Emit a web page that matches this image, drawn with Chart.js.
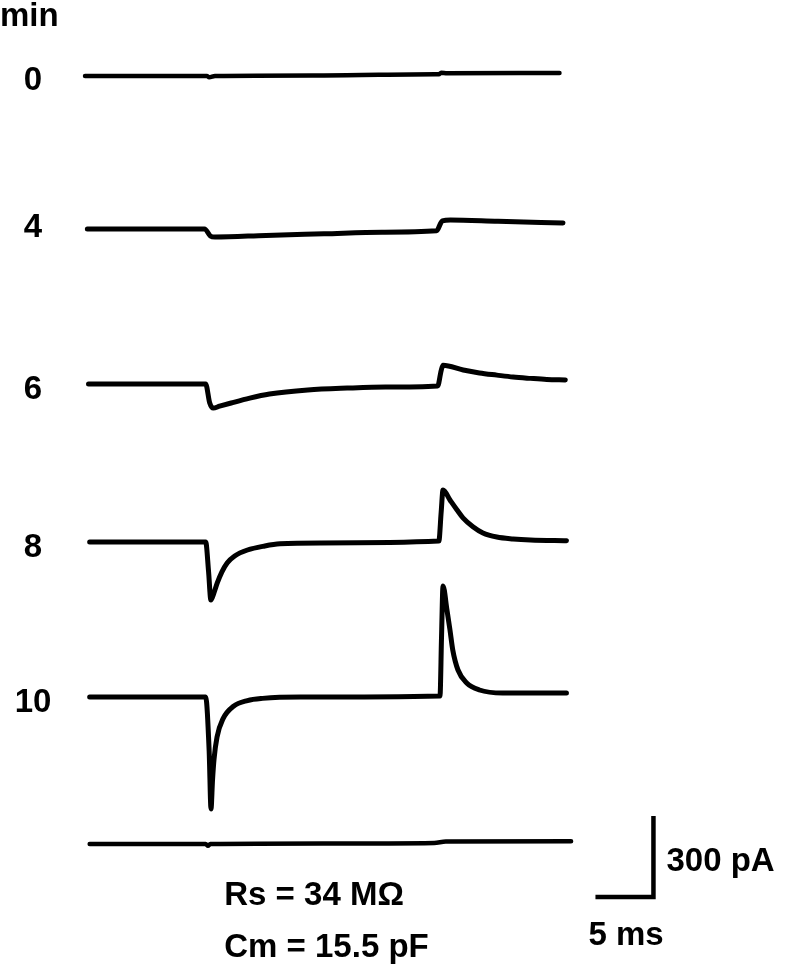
<!DOCTYPE html>
<html>
<head>
<meta charset="utf-8">
<script src="https://cdn.jsdelivr.net/npm/chart.js@4"></script>
<style>
  html, body { margin: 0; padding: 0; background: #fff; }
  #wrap { position: relative; width: 785px; height: 970px; }
</style>
</head>
<body>
<div id="wrap"><canvas id="c"></canvas></div>
<script>
// ---- Data (time in ms from the onset of the voltage step, current in pA relative to each trace's holding level) ----
const traceLabels = ['0', '4', '6', '8', '10', ''];   // minutes after break-in ('' = bottom trace, no label)
const traceOffsetsPA = [3312, 2742, 2168, 1584, 1010, 466]; // vertical stacking of the traces, pA

const t0  = [-10.6, -0.6, -0.1, 0.1, 0.6, 10, 19.6, 19.9, 20.1, 20.6, 30.3];
const i0  = [-4, -4, -4, -9, -4, -2, 2, 2, 8, 6, 7];

const t4  = [-10.4, -0.3, 0.2, 0.6, 5, 10, 15, 19.7, 20.2, 20.9, 25, 30.6];
const i4  = [0, 0, -26, -30, -24, -18, -12, -7, 30, 33, 28, 22];

const t6  = [-10.3, -0.2, 0.15, 0.45, 1.0, 2.0, 3.6, 5.3, 8.6, 12, 15.3, 19.8, 20.1, 20.26, 22.0, 23.4, 24.9, 26.3, 27.8, 29.2, 30.8];
const i6  = [0, 0, -70, -89, -82, -70, -52, -37, -22, -15, -11, -7, 50, 70, 52, 41, 33, 26, 21, 17, 15];

const t8  = [-10.2, -0.2, 0.05, 0.25, 0.5, 0.8, 1.2, 1.65, 2.3, 3.4, 4.9, 6.2, 9.7, 19.9, 20.1, 20.26, 20.86, 21.47, 21.98, 22.84, 23.7, 24.9, 26.3, 27.8, 30.9];
const i8  = [0, 0, -110, -215, -190, -152, -111, -78, -52, -30, -15, -7, -4, 3, 110, 192, 155, 118, 89, 56, 33, 18, 11, 7, 4];

const t10 = [-10.2, -0.2, 0.1, 0.26, 0.39, 0.52, 0.78, 1.3, 2.2, 3.4, 4.7, 8, 20.0, 20.13, 20.26, 20.6, 20.86, 21.1, 21.55, 22.3, 23.4, 25.4, 30.9];
const i10 = [0, 0, -200, -414, -307, -230, -148, -80, -34, -13, -5, 0, 4, 220, 411, 322, 248, 174, 100, 52, 26, 15, 15];

const tB  = [-10.2, -0.2, 0, 0.2, 10, 19.5, 20.5, 31.3];
const iB  = [0, 0, -6, 0, 2, 4, 9, 10];

const scaleBarMs = 5;     // horizontal calibration
const scaleBarPA = 300;   // vertical calibration
const scaleBarCorner = { t: 38.4, pA: 270 };

const annotations = ['Rs = 34 M\u03A9', 'Cm = 15.5 pF'];

// ---- Build datasets ----
const times = [t0, t4, t6, t8, t10, tB];
const currents = [i0, i4, i6, i8, i10, iB];
const widths = [4.5, 5, 5, 5, 5, 4.5];

const datasets = times.map((ts, k) => ({
  label: traceLabels[k] ? traceLabels[k] + ' min' : 'baseline',
  data: ts.map((t, j) => ({ x: t, y: currents[k][j] + traceOffsetsPA[k] })),
  borderColor: '#000',
  borderWidth: widths[k],
  pointRadius: 0,
  fill: false,
  cubicInterpolationMode: 'monotone',
  borderJoinStyle: 'round',
  borderCapStyle: 'round'
}));

datasets.push({
  label: 'scale bar',
  data: [
    { x: scaleBarCorner.t - scaleBarMs, y: scaleBarCorner.pA },
    { x: scaleBarCorner.t, y: scaleBarCorner.pA },
    { x: scaleBarCorner.t, y: scaleBarCorner.pA + scaleBarPA }
  ],
  borderColor: '#000',
  borderWidth: 4.5,
  pointRadius: 0,
  tension: 0,
  borderJoinStyle: 'miter',
  borderCapStyle: 'butt'
});

const FONT = 'bold 33px "Liberation Sans", Arial, Helvetica, sans-serif';

const textPlugin = {
  id: 'texts',
  beforeDraw(chart) {
    const ctx = chart.ctx;
    ctx.save();
    ctx.fillStyle = '#fff';
    ctx.fillRect(0, 0, chart.width, chart.height);
    ctx.restore();
  },
  afterDraw(chart) {
    const ctx = chart.ctx;
    const xs = chart.scales.x, ys = chart.scales.y;
    ctx.save();
    ctx.fillStyle = '#000';
    ctx.font = FONT;
    ctx.textBaseline = 'alphabetic';
    // column heading
    ctx.textAlign = 'left';
    ctx.fillText('min', 0, 26);
    // trace labels
    ctx.textAlign = 'center';
    traceLabels.forEach((lab, k) => {
      if (!lab) return;
      const y = ys.getPixelForValue(traceOffsetsPA[k]);
      ctx.fillText(lab, 33, y + (k === 1 ? 8 : 15));
    });
    // Rs / Cm
    ctx.textAlign = 'left';
    const ann = xs.getPixelForValue(1.4);
    const bottomY = ys.getPixelForValue(traceOffsetsPA[5]);
    ctx.fillText(annotations[0], ann, bottomY + 61);
    ctx.fillText(annotations[1], ann, bottomY + 113);
    // scale bar labels
    const cx = xs.getPixelForValue(scaleBarCorner.t);
    const cy = ys.getPixelForValue(scaleBarCorner.pA);
    const topY = ys.getPixelForValue(scaleBarCorner.pA + scaleBarPA);
    const lx = xs.getPixelForValue(scaleBarCorner.t - scaleBarMs);
    ctx.fillText(scaleBarPA + ' pA', cx + 13, (cy + topY) / 2 + 15);
    ctx.fillText(scaleBarMs + ' ms', lx - 7, cy + 48);
    ctx.restore();
  }
};

new Chart(document.getElementById('c'), {
  type: 'line',
  data: { datasets },
  options: {
    responsive: true,
    maintainAspectRatio: false,
    animation: false,
    events: [],
    layout: { padding: 0 },
    plugins: { legend: { display: false }, tooltip: { enabled: false } },
    scales: {
      x: { type: 'linear', min: -17.93, max: 49.74, display: false },
      y: { type: 'linear', min: 0, max: 3589, display: false }
    }
  },
  plugins: [textPlugin]
});
</script>
</body>
</html>
